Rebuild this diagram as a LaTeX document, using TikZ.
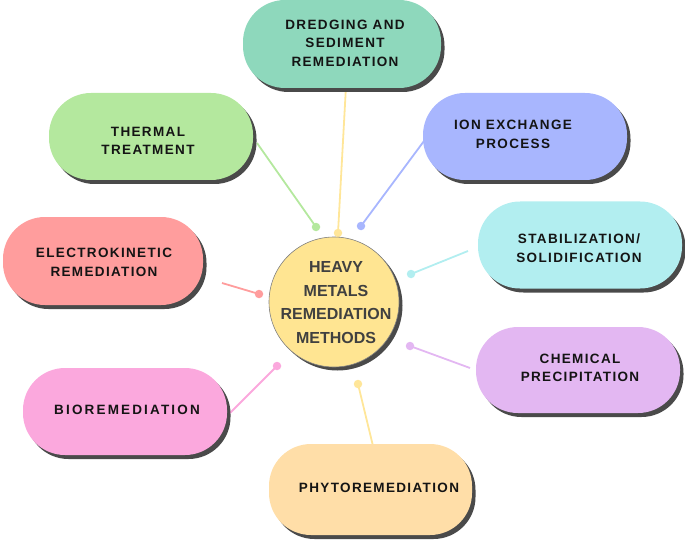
\documentclass[tikz,border=0pt]{standalone}
\usepackage{fontspec}
\setmainfont{Liberation Sans}
\newfontfamily\boxfont[LetterSpace=10]{Liberation Sans}
\newfontfamily\wideboxfont[LetterSpace=16]{Liberation Sans}
\usetikzlibrary{shadows}
\definecolor{cdredge}{HTML}{8ED8BC}
\definecolor{cthermal}{HTML}{B4E89E}
\definecolor{cion}{HTML}{A8B6FE}
\definecolor{celectro}{HTML}{FF9D9D}
\definecolor{cstab}{HTML}{B2EEF0}
\definecolor{cchem}{HTML}{E3B7F2}
\definecolor{cbio}{HTML}{FBA8DD}
\definecolor{cphyto}{HTML}{FFDEA8}
\definecolor{ccenter}{HTML}{FFE592}
\definecolor{cyline}{HTML}{FFE699}
\definecolor{cshadow}{HTML}{4A4A4A}
\definecolor{ctext}{HTML}{141414}
\definecolor{cctext}{HTML}{404040}
\begin{document}
\begin{tikzpicture}[x=1pt,y=-1pt,
  box/.style={rectangle, rounded corners=42pt, minimum width=204pt, minimum height=87pt, inner sep=0pt,
    drop shadow={shadow xshift=3.5pt, shadow yshift=-4pt, fill=cshadow, opacity=1}},
  lbl/.style={font=\boxfont\bfseries\fontsize{13.5}{18.5}\selectfont, align=center, text=ctext, inner sep=0pt},
  link/.style={line width=1.8pt},
  dot/.style={circle, inner sep=0pt, minimum size=8.5pt}]
\useasboundingbox (0,0) rectangle (685,540);

% connector ends and dots
\coordinate (eDredge) at (346,86);
\coordinate (eThermal) at (257,143);
\coordinate (eIon) at (424,141);
\coordinate (eStab) at (468,251);
\coordinate (eChem) at (470,368);
\coordinate (eElectro) at (222,283);
\coordinate (eBio) at (230,413);
\coordinate (ePhyto) at (373,446);

\node[dot, fill=cyline] (dDredge) at (338,233) {};
\node[dot, fill=cthermal] (dThermal) at (316,227) {};
\node[dot, fill=cion] (dIon) at (361,226) {};
\node[dot, fill=cstab] (dStab) at (411,274) {};
\node[dot, fill=cchem] (dChem) at (410,346) {};
\node[dot, fill=celectro] (dElectro) at (259,294) {};
\node[dot, fill=cbio] (dBio) at (277,366) {};
\node[dot, fill=cyline] (dPhyto) at (358,384) {};

\draw[link, cyline] (eDredge) -- (dDredge.center);
\draw[link, cthermal] (eThermal) -- (dThermal.center);
\draw[link, cion] (eIon) -- (dIon.center);
\draw[link, cstab] (eStab) -- (dStab.center);
\draw[link, cchem] (eChem) -- (dChem.center);
\draw[link, celectro] (eElectro) -- (dElectro.center);
\draw[link, cbio] (eBio) -- (dBio.center);
\draw[link, cyline] (ePhyto) -- (dPhyto.center);

% boxes
\node[box, fill=cdredge, minimum width=198pt, minimum height=88pt] (bDredge) at (342,44) {};
\node[box, fill=cthermal] (bThermal) at (151,136.5) {};
\node[box, fill=cion] (bIon) at (525,136.5) {};
\node[box, fill=celectro, minimum width=200pt, minimum height=88pt] (bElectro) at (103,261) {};
\node[box, fill=cstab] (bStab) at (580,245) {};
\node[box, fill=cchem, minimum height=86pt] (bChem) at (578,370) {};
\node[box, fill=cbio, minimum height=87pt] (bBio) at (125,411.5) {};
\node[box, fill=cphyto, minimum width=203pt, minimum height=91pt] (bPhyto) at (370.5,489.5) {};

\node[circle, fill=ccenter, draw=black!50, line width=0.6pt, minimum size=130pt, inner sep=0pt,
  drop shadow={shadow xshift=3.5pt, shadow yshift=-3.5pt, fill=cshadow, opacity=1}] (center) at (334,302) {};

% labels
\node[lbl] (tDredge) at (345,43) {DREDGING AND\\SEDIMENT\\REMEDIATION};
\node[lbl] (tThermal) at (148,141) {THERMAL\\TREATMENT};
\node[lbl] (tIon) at (513,134.5) {ION EXCHANGE\\PROCESS};
\node[lbl] (tElectro) at (104,262.5) {ELECTROKINETIC\\REMEDIATION};
\node[lbl] (tStab) at (579,248) {STABILIZATION/\\SOLIDIFICATION};
\node[lbl] (tChem) at (580,368) {CHEMICAL\\PRECIPITATION};
\node[lbl, font=\wideboxfont\bfseries\fontsize{13.5}{18.5}\selectfont] (tBio) at (127,410) {BIOREMEDIATION};
\node[lbl] (tPhyto) at (379,488) {PHYTOREMEDIATION};
\node[font=\bfseries\fontsize{16}{23.7}\selectfont, align=center, text=cctext, inner sep=0pt] (tCenter) at (336,302.5)
  {HEAVY\\METALS\\REMEDIATION\\METHODS};
\end{tikzpicture}
\end{document}
